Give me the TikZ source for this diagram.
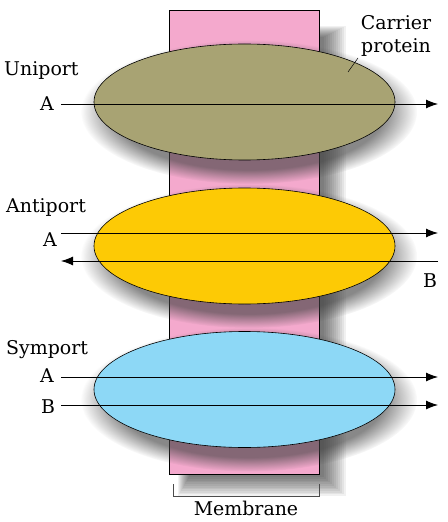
\documentclass[tikz,border=0pt]{standalone}
\usepackage{fontspec}
\setmainfont{DejaVu Serif}
\usetikzlibrary{shapes.geometric,fadings,arrows.meta}
\definecolor{membranepink}{HTML}{F4A9CD}
\definecolor{olive}{HTML}{A8A373}
\definecolor{yellowp}{HTML}{FDCA05}
\definecolor{bluep}{HTML}{8DD8F6}
\tikzset{
  lbl/.style={font=\fontsize{19}{23}\selectfont, inner sep=0pt},
  protein/.style={ellipse, draw=black, line width=0.6bp, minimum width=301bp, minimum height=116bp, inner sep=0pt},
  pshadow/.style={fill=black!75, fill opacity=0.62, path fading=circle with fuzzy edge 20 percent},
  flow/.style={line width=0.9bp, -{Latex[length=12bp,width=9bp]}},
}
\begin{document}
\begin{tikzpicture}[x=1bp,y=-1bp]
\useasboundingbox (0,0) rectangle (448,522);
\fill[white] (0,0) rectangle (448,522);
% membrane shadow (stacked soft layers)
\foreach \k in {0,...,11}{
  \fill[black, opacity=0.055] (178+\k, 26+\k) rectangle (346-2*\k, 496-1.7*\k);
}
% membrane
\node[draw=black, line width=0.7bp, fill=membranepink, minimum width=150bp, minimum height=464bp, inner sep=0pt]
  (mem) at (244.5,242) {};
% protein shadows
\fill[pshadow] (249,112) ellipse (168bp and 72bp);
\fill[pshadow] (249,256) ellipse (168bp and 72bp);
\fill[pshadow] (249,399.5) ellipse (168bp and 72bp);
% proteins
\node[protein, fill=olive] (p1) at (244.5,102) {};
\node[protein, fill=yellowp] (p2) at (244.5,246) {};
\node[protein, fill=bluep] (p3) at (244.5,389.5) {};
% arrow ends
\coordinate (u1) at (61,104); \coordinate (u2) at (438,104);
\coordinate (a1) at (61,233); \coordinate (a2) at (438,233);
\coordinate (b1) at (438,261); \coordinate (b2) at (61,261);
\coordinate (s1) at (61,377); \coordinate (s2) at (438,377);
\coordinate (t1) at (61,405); \coordinate (t2) at (438,405);
\draw[flow] (u1) -- (u2);
\draw[flow] (a1) -- (a2);
\draw[flow] (b1) -- (b2);
\draw[flow] (s1) -- (s2);
\draw[flow] (t1) -- (t2);
% labels
\node[lbl, anchor=base west] (uni) at (4,76) {Uniport};
\node[lbl, anchor=base west] (uA) at (40,111) {A};
\node[lbl, anchor=base west] (anti) at (6,212) {Antiport};
\node[lbl, anchor=base west] (aA) at (43,246) {A};
\node[lbl, anchor=base west] (aB) at (423,287) {B};
\node[lbl, anchor=base west] (sym) at (6,354) {Symport};
\node[lbl, anchor=base west] (sA) at (40,382) {A};
\node[lbl, anchor=base west] (sB) at (41,413) {B};
\node[lbl, align=center, anchor=center] (cp) at (396,36) {Carrier\\protein};
\coordinate (cpa) at (358,58); \coordinate (cpb) at (348,72);
\draw[line width=0.5bp] (cpa) -- (cpb);
% membrane bracket
\coordinate (m1) at (173,484); \coordinate (m2) at (173,496);
\coordinate (m3) at (319,496); \coordinate (m4) at (319,484);
\draw[line width=0.7bp, black!70] (m1) -- (m2) -- (m3) -- (m4);
\node[lbl, anchor=base] (memlbl) at (246,515) {Membrane};
\end{tikzpicture}
\end{document}
